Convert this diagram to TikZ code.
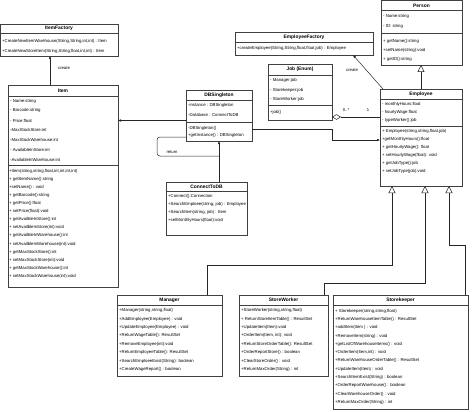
\documentclass[tikz,border=0pt]{standalone}
\usepackage{fontspec}
\setmainfont{Liberation Sans}
\usetikzlibrary{arrows.meta,calc}
\begin{document}
\begin{tikzpicture}[x=1pt,y=-1pt]
\tikzset{
 cbox/.style={draw=black!75, line width=0.5pt, fill=white, anchor=north west, inner sep=0pt, outer sep=0pt},
 ttl/.style={font=\fontsize{4.9}{5}\selectfont\bfseries, inner sep=0pt},
 row/.style={font=\fontsize{4.3}{5}\selectfont, anchor=west, inner sep=0pt},
 sepl/.style={draw=black!75, line width=0.5pt},
 wire/.style={draw=black!85, line width=0.5pt},
 dep/.style={wire, -{Latex[length=3pt,width=2.6pt]}},
 gen/.style={wire, -{Triangle[open,length=7pt,width=7pt]}},
 aggr/.style={wire, {Diamond[open,length=9pt,width=5.5pt]}-},
 lbl/.style={font=\fontsize{4.2}{5}\selectfont, inner sep=0pt},
}
\useasboundingbox (0,0) rectangle (474,412);

% ItemFactory
\node[cbox, minimum width=118, minimum height=32] (itf) at (0.5,24) {};
\node[ttl] (itf-t) at (59,28.5) {ItemFactory};
\draw[sepl] (0.5,33) -- (118.5,33);
\foreach \t [count=\i from 0] in {{+CreateNewItemWarehouse(String,String,int,int) : Item},{+CreateNewStoreItem(String,String,float,int,int) : Item}}
  \node[row] (itf-r\i) at (2,41+10*\i) {\t};

% Item
\node[cbox, minimum width=110, minimum height=202] (item) at (8,85) {};
\node[ttl] (item-t) at (63,90.5) {Item};
\draw[sepl] (8,96) -- (118,96);
\foreach \t [count=\i from 0] in {{- Name:string},{- Barcode:string},{- Price:float},{-MaxStockStore:int},{-MaxStockWarehouse:int},{- AvailableInStore:int},{-AvailableInWarehouse:int}}
  \node[row] (item-a\i) at (10,101+9.8*\i) {\t};
\draw[sepl] (8,165) -- (118,165);
\foreach \t [count=\i from 0] in {{+Item(string,string,float,int,int,int,int)},{+ getItemName():string},{+setName() : void},{+ getBarcode():string},{+ getPrice():float},{+ setPrice(float):void},{+ getAvailbleInStore():int},{+ setAvailbleInStore(int):void},{+ getAvailbleInWarehouse():int},{+ setAvailbleInWarehouse(int):void},{+ getMaxStockStore():int},{+ setMaxStockStore(int):void},{+ getMaxStockWarehouse():int},{+ setMaxStockWarehouse(int):void}}
  \node[row] (item-m\i) at (9,171+8.1*\i) {\t};

% DBSingleton
\node[cbox, minimum width=66, minimum height=51] (dbs) at (186,90) {};
\node[ttl] (dbs-t) at (219,95) {DBSingleton};
\draw[sepl] (186,100) -- (252,100);
\node[row] (dbs-a0) at (188,105) {-instance : DBSingleton};
\node[row] (dbs-a1) at (188,115) {-Database : ConnectToDB};
\draw[sepl] (186,122) -- (252,122);
\node[row] (dbs-m0) at (188,128) {-DBSingleton()};
\node[row] (dbs-m1) at (188,135) {+getInstance() : DBSingleton};

% ConnectToDB
\node[cbox, minimum width=81, minimum height=53] (cdb) at (166,182) {};
\node[ttl] (cdb-t) at (206.5,186.5) {ConnectToDB};
\draw[sepl] (166,191) -- (247,191);
\foreach \t [count=\i from 0] in {{+Connect():Connection},{+SearchEmploee(string, job) : Employee},{+SearchItem(string, job) : Item},{+setMonthlyHours(float):void}}
  \node[row] (cdb-r\i) at (168,196+8*\i) {\t};

% EmployeeFactory
\node[cbox, minimum width=138, minimum height=23] (ef) at (235,32) {};
\node[ttl] (ef-t) at (304,37) {EmployeeFactory};
\draw[sepl] (235,42) -- (373,42);
\node[row] (ef-r0) at (237,48.5) {+createEmployee(String,String,float,float,job) : Employee};

% Job (Enum)
\node[cbox, minimum width=64, minimum height=56] (jb) at (268,64) {};
\node[ttl] (jb-t) at (300,69.5) {Job (Enum)};
\draw[sepl] (268,75) -- (332,75);
\foreach \t [count=\i from 0] in {{- Manager:job},{- Storekeeper:job},{- StoreWorker:job}}
  \node[row] (jb-a\i) at (270,80.5+9.5*\i) {\t};
\draw[sepl] (268,105) -- (332,105);
\node[row] (jb-m0) at (270,112) {+job()};

% Person
\node[cbox, minimum width=81, minimum height=64.5] (per) at (381,0.5) {};
\node[ttl] (per-t) at (421.5,5.5) {Person};
\draw[sepl] (381,10.5) -- (462,10.5);
\node[row] (per-a0) at (383,16.5) {- Name:string};
\node[row] (per-a1) at (383,26) {- ID: string};
\draw[sepl] (381,33) -- (462,33);
\foreach \t [count=\i from 0] in {{+ getName():string},{+setName(string):void},{+ getID():string}}
  \node[row] (per-m\i) at (383,41+9*\i) {\t};

% Employee
\node[cbox, minimum width=82, minimum height=97] (emp) at (380,89) {};
\node[ttl] (emp-t) at (421,94.5) {Employee};
\draw[sepl] (380,99.5) -- (462,99.5);
\foreach \t [count=\i from 0] in {{- monthlyHours:float},{- hourlyWage:float},{- typeWorker():job}}
  \node[row] (emp-a\i) at (382,104.5+8*\i) {\t};
\draw[sepl] (380,126) -- (462,126);
\foreach \t [count=\i from 0] in {{+ Employee(string,string,float,job)},{+getMonthlyHours():float},{+ getHourlyWage(): float},{+ setHourlyWage(float): void},{+ getJobType():job},{+ setJobType(job):void}}
  \node[row] (emp-m\i) at (382,131+8*\i) {\t};

% Manager
\node[cbox, minimum width=105, minimum height=81] (mgr) at (117,295) {};
\node[ttl] (mgr-t) at (169.5,300) {Manager};
\draw[sepl] (117,305) -- (222,305);
\foreach \t [count=\i from 0] in {{+Manager(string,string,float)},{+AddEmployee(Employee) : void},{+UpdateEmployee(Employee) : void},{+ReturnWageTable(): ResultSet},{+RemoveEmployee(int):void},{+ReturnEmployeeTable(): ResultSet},{+SearchEmploeeExist(String): boolean},{+CreateWageReport() : boolean}}
  \node[row] (mgr-r\i) at (119,310.5+8.4*\i) {\t};

% StoreWorker
\node[cbox, minimum width=89, minimum height=81] (sw) at (239,295) {};
\node[ttl] (sw-t) at (283.5,300) {StoreWorker};
\draw[sepl] (239,305) -- (328,305);
\foreach \t [count=\i from 0] in {{+StoreWorker(string,string,float)},{+ ReturnStoreItemTable() : ResultSet},{+UpdateItem(Item):void},{+OrderItem(Item, int): void},{+ReturnStoreOrderTable(): ResultSet},{+OrderReportStore() : boolean},{+ClearStoreOrder() : void},{+ReturnMaxOrder(String) : int}}
  \node[row] (sw-r\i) at (241,310.5+8.4*\i) {\t};

% Storekeeper
\node[cbox, minimum width=135, minimum height=114] (sk) at (333,295) {};
\node[ttl] (sk-t) at (400.5,300) {Storekeeper};
\draw[sepl] (333,305) -- (468,305);
\foreach \t [count=\i from 0] in {{+ Storekeeper(string,string,float)},{+ReturnWarehouseItemTable() : ResultSet},{+addItem(Item ) : void},{+RemoveItem(string) : void},{+getListOfWarehouseItems() : void},{+OrderItem(Item,int) : void},{+ReturnWarehouseOrderTable() : ResultSet},{+UpdateItem(Item) : void},{+SearchItemExist(String) : boolean},{+OrderReportWarehouse() : boolean},{+ClearWarehouseOrder() : void},{+ReturnMaxOrder(String) : int}}
  \node[row] (sk-r\i) at (335,311+8.3*\i) {\t};

% ---- connectors ----
% Item -> ItemFactory (create)
\draw[dep] ($(item.north west)+(42,0)$) -- ($(itf.south west)+(49.5,0)$);
\node[lbl] (l-create1) at (64,68) {create};

% DBSingleton -> Item
\coordinate (d1) at ($(dbs.west)+(0,5)$);
\draw[dep] (d1) -- (d1 -| item.east);

% return loop
\coordinate (r0) at ($(dbs.south west)+(0,-4)$);
\coordinate (r1) at ($(dbs.south)+(0,15)$);
\draw[wire, rounded corners=3pt] (r0) -- ++(-29,0) |- (r1);
\node[lbl] (l-return) at (172,152.5) {return};

% ConnectToDB -> DBSingleton
\draw[dep] (cdb.north -| dbs.south) -- (dbs.south);

% DBSingleton -> Employee
\coordinate (e1) at ($(dbs.east)+(0,13.5)$);
\coordinate (e2) at ($(emp.west)+(0,2.5)$);
\draw[dep] (e1) -| (jb.east |- e2) -- (e2);

% Job <>- Employee
\coordinate (g1) at ($(jb.east)+(0,25)$);
\draw[aggr] (g1) -- (g1 -| emp.west);
\node[lbl] (l-many) at (346,110) {0..*};
\node[lbl] (l-one) at (368,110) {1};

% Employee -> EmployeeFactory (create)
\draw[dep] ($(emp.north west)+(3,0)$) -- ($(ef.south east)+(-20,0)$);
\node[lbl] (l-create2) at (352,70) {create};

% Employee -> Person
\draw[gen] (emp.north) -- (emp.north |- per.south);

% Subclasses -> Employee
\draw[gen] ($(mgr.north east)+(-15,0)$) |- ($(emp.south west)+(12,79)$) -- ($(emp.south west)+(12,0)$);
\draw[gen] ($(sw.north east)+(-4,0)$) |- ($(emp.south)+(4,97)$) -- ($(emp.south)+(4,0)$);
\draw[gen] ($(sk.north east)+(-3,0)$) |- ($(emp.south east)+(-13,59)$) -- ($(emp.south east)+(-13,0)$);
\end{tikzpicture}
\end{document}
